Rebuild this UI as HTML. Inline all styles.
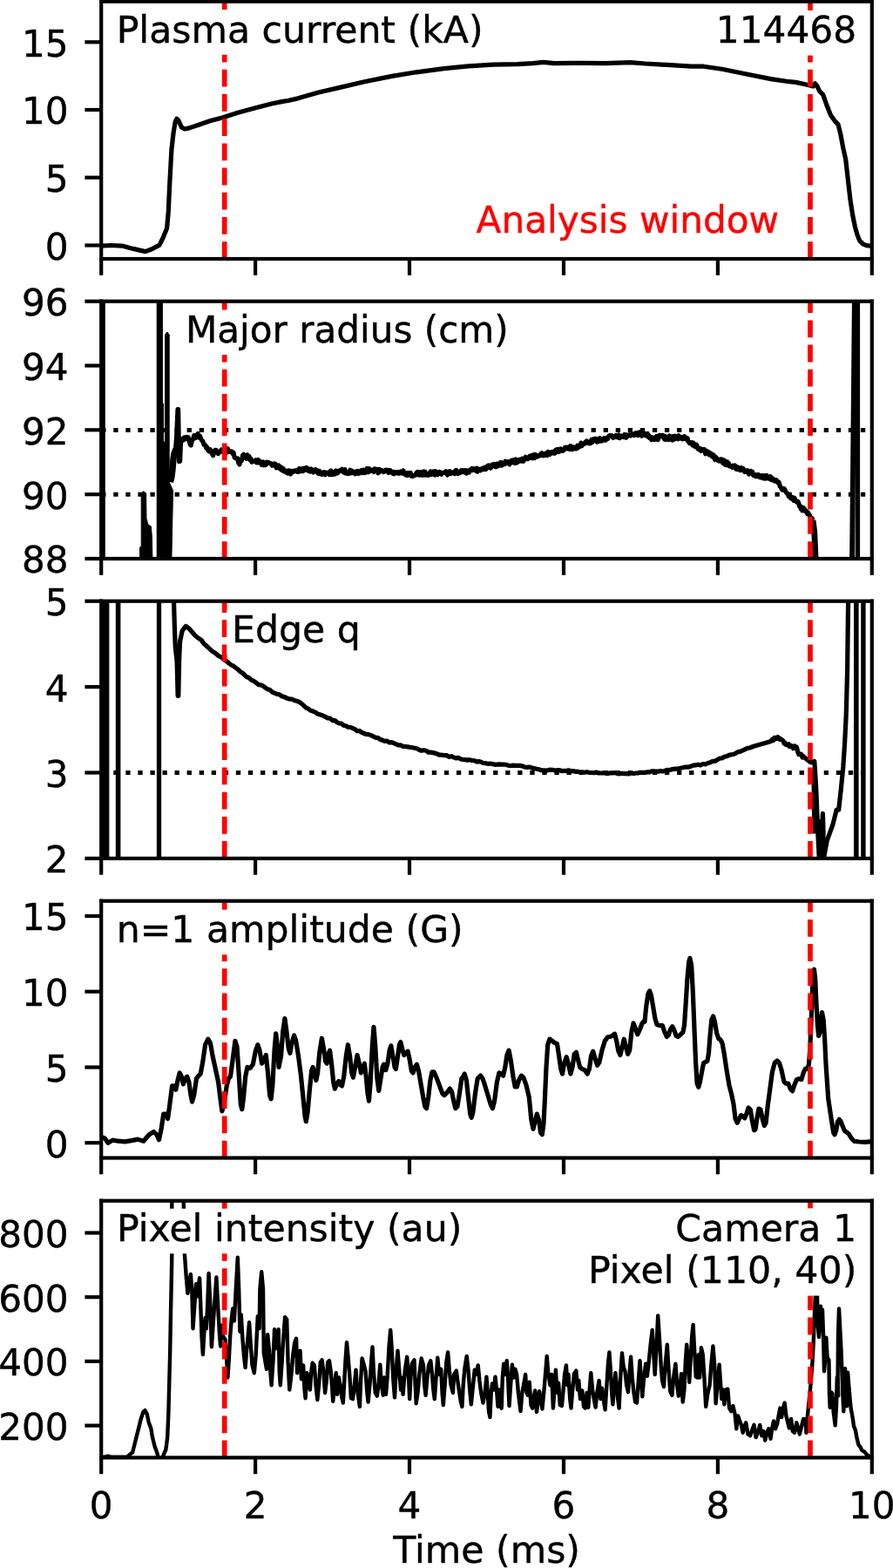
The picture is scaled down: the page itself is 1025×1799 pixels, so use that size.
<!DOCTYPE html>
<html lang="en"><head><meta charset="utf-8"><title>Shot 114468</title>
<style>html,body{margin:0;padding:0;background:#fff}svg{display:block}text{font-family:"DejaVu Sans","Liberation Sans",sans-serif;font-size:42.1px}</style></head><body>
<svg width="1025" height="1799" viewBox="0 0 1025 1799">
<rect width="1025" height="1799" fill="#fff"/>
<defs>
<clipPath id="c0"><rect x="116.2" y="1.7" width="884.6" height="295.3"/></clipPath>
<clipPath id="c1"><rect x="116.2" y="345.7" width="884.6" height="295.3"/></clipPath>
<clipPath id="c2"><rect x="116.2" y="689.7" width="884.6" height="295.2"/></clipPath>
<clipPath id="c3"><rect x="116.2" y="1033.7" width="884.6" height="294.8"/></clipPath>
<clipPath id="c4"><rect x="116.2" y="1377.7" width="884.6" height="294.7"/></clipPath>
</defs>
<g clip-path="url(#c0)">
<polyline points="116.4,282.1 127.2,281.5 140.0,282.1 152.9,285.4 166.9,288.6 174.4,285.8 183.0,281.1 187.3,272.5 191.6,261.8 193.3,242.4 194.8,210.2 196.9,171.6 199.1,152.3 201.2,139.4 202.9,136.2 204.9,138.3 208.3,145.9 212.0,148.0 217.3,146.9 228.0,143.3 240.9,138.8 256.0,134.7 273.1,129.3 292.4,124.0 311.8,119.0 324.6,116.4 330.5,115.5 341.1,113.1 365.7,106.0 390.2,100.4 418.3,93.7 450.0,87.4 478.0,82.8 509.7,78.6 537.8,75.8 565.9,74.1 594.0,73.7 611.5,72.7 623.8,71.3 636.1,72.7 657.2,72.3 671.2,72.3 695.1,72.7 723.2,71.6 740.8,73.0 765.4,74.4 793.5,76.2 807.5,76.2 828.6,79.3 856.7,85.0 884.8,90.6 905.9,93.7 913.3,94.4 925.3,97.0 933.4,99.0 935.4,95.8 938.0,98.7 940.7,104.7 944.7,108.7 948.7,120.0 953.4,132.0 958.7,139.4 962.0,142.7 964.7,153.4 968.0,170.7 970.7,182.7 973.4,206.7 976.0,229.4 978.7,246.8 981.4,260.1 984.0,269.4 986.7,276.1 990.7,280.1 994.7,281.7 1001.4,282.4" fill="none" stroke="#000" stroke-width="5.2" stroke-linejoin="round" stroke-linecap="butt"/>
<line x1="257.7" y1="297.0" x2="257.7" y2="1.7" stroke="#f00" stroke-width="5.7" stroke-dasharray="19.8 8.4" stroke-dashoffset="0"/>
<line x1="930.0" y1="297.0" x2="930.0" y2="1.7" stroke="#f00" stroke-width="5.7" stroke-dasharray="19.8 8.4" stroke-dashoffset="0"/>
<rect x="128.1" y="11.2" width="432.1" height="51.6" fill="#fff"/>
<rect x="816.2" y="12.0" width="172.4" height="51.6" fill="#fff"/>
<rect x="541.0" y="229.2" width="358.8" height="51.6" fill="#fff"/>
</g>
<text transform="translate(133.7 48.5) scale(1.011 1)" text-anchor="start" fill="#000" stroke="#000" stroke-width="0.4">Plasma current (kA)</text>
<text transform="translate(983.0 49.3) scale(1.003 1)" text-anchor="end" fill="#000" stroke="#000" stroke-width="0.4">114468</text>
<text transform="translate(546.6 266.5) scale(1.003 1)" text-anchor="start" fill="#f00" stroke="#f00" stroke-width="0.4">Analysis window</text>
<rect x="114.1" y="0.0" width="888.8" height="3.8"/>
<rect x="114.1" y="294.9" width="888.8" height="4.2"/>
<rect x="114.1" y="0.0" width="4.2" height="299.1"/>
<rect x="998.7" y="0.0" width="4.2" height="299.1"/>
<rect x="114.1" y="297.0" width="4.2" height="18.8"/>
<rect x="291.0" y="297.0" width="4.2" height="18.8"/>
<rect x="467.9" y="297.0" width="4.2" height="18.8"/>
<rect x="644.9" y="297.0" width="4.2" height="18.8"/>
<rect x="821.8" y="297.0" width="4.2" height="18.8"/>
<rect x="998.7" y="297.0" width="4.2" height="18.8"/>
<rect x="97.4" y="279.4" width="18.8" height="4.2"/>
<text transform="translate(78.5 297.9) scale(1.0 1)" text-anchor="end" fill="#000" stroke="#000" stroke-width="0.4">0</text>
<rect x="97.4" y="201.6" width="18.8" height="4.2"/>
<text transform="translate(78.5 220.1) scale(1.0 1)" text-anchor="end" fill="#000" stroke="#000" stroke-width="0.4">5</text>
<rect x="97.4" y="123.9" width="18.8" height="4.2"/>
<text transform="translate(78.5 142.4) scale(1.0 1)" text-anchor="end" fill="#000" stroke="#000" stroke-width="0.4">10</text>
<rect x="97.4" y="46.2" width="18.8" height="4.2"/>
<text transform="translate(78.5 64.7) scale(1.0 1)" text-anchor="end" fill="#000" stroke="#000" stroke-width="0.4">15</text>
<g clip-path="url(#c1)">
<line x1="116.2" y1="567.2" x2="1000.8" y2="567.2" stroke="#000" stroke-width="5.0" stroke-dasharray="5.3 8.76" stroke-dashoffset="0"/>
<line x1="116.2" y1="493.4" x2="1000.8" y2="493.4" stroke="#000" stroke-width="5.0" stroke-dasharray="5.3 8.76" stroke-dashoffset="0"/>
<polyline points="118.2,340.0 118.2,645.0" fill="none" stroke="#000" stroke-width="5.2" stroke-linejoin="round" stroke-linecap="butt"/>
<polygon points="160.5,642.0 160.5,628.3 162.2,626.3 162.2,565.9 164.6,563.7 167.6,565.9 168.0,595.1 170.0,602.0 173.4,603.9 174.4,616.6 174.9,642.0" fill="#000" stroke="#000" stroke-width="1" stroke-linejoin="round"/>
<polygon points="180.2,340.0 186.4,340.0 186.4,463.0 187.6,463.0 187.6,507.0 189.6,507.0 189.6,384.0 191.9,381.0 194.2,384.0 194.2,553.0 198.6,563.0 198.2,578.0 196.8,645.0 180.2,645.0" fill="#000" stroke="#000" stroke-width="1" stroke-linejoin="round"/>
<polyline points="195.6,553.2 197.1,547.3 198.2,538.5 199.0,528.8 199.7,522.0 201.4,518.0 202.9,513.2" fill="none" stroke="#000" stroke-width="7.0" stroke-linejoin="round" stroke-linecap="butt"/>
<polyline points="194.4,552.4 195.9,547.4 197.0,538.1 197.8,529.1 198.5,522.3 199.4,518.7 200.2,516.6 201.7,514.2 202.7,499.5 204.0,469.5 204.6,469.5 205.6,529.5 206.6,529.5 207.5,507.2 208.8,504.0 210.1,505.2 211.3,502.0 212.4,503.7 213.6,501.4 214.8,503.4 216.0,501.7 217.1,505.5 218.2,509.8 219.2,510.8 220.6,504.7 221.7,503.6 222.7,499.6 223.8,502.9 224.8,501.3 225.9,499.0 227.1,497.5 228.2,502.2 229.4,500.0 230.6,503.0 231.8,505.6 232.9,506.3 234.2,510.5 235.6,510.6 236.7,514.0 237.8,513.1 238.9,517.0 240.0,517.7 241.1,515.6 242.3,518.0 243.5,520.7 244.6,522.7 245.8,517.5 247.0,516.3 248.1,516.4 249.3,519.4 250.5,520.6 251.7,518.5 252.8,518.0 254.0,516.1 255.1,518.2 256.1,517.2 257.2,518.9 258.2,518.7 259.3,519.8 260.3,517.7 261.4,514.6 262.4,518.2 263.5,518.5 264.5,517.9 265.7,517.8 266.9,520.3 268.0,519.3 269.2,525.0 270.4,525.7 271.6,526.3 272.7,526.0 273.8,531.3 274.9,532.9 276.0,528.8 277.3,528.7 278.6,522.5 279.6,521.3 280.7,522.4 281.7,525.3 282.8,526.2 283.9,521.8 284.9,525.8 285.9,523.3 286.9,527.8 288.0,526.4 289.0,530.2 290.0,528.8 292.8,529.6 293.7,527.8 294.5,530.9 295.4,528.1 296.2,527.5 297.1,530.8 297.9,528.6 298.7,530.0 299.6,531.7 300.4,533.3 301.3,530.8 302.1,529.9 303.0,533.8 303.8,530.7 304.7,533.6 305.5,533.1 306.4,530.2 307.2,530.3 308.0,530.3 308.9,531.3 309.7,531.4 310.6,531.5 311.4,532.2 312.3,534.1 313.1,532.3 314.0,532.2 314.8,534.0 315.7,532.0 316.5,532.9 317.3,536.9 318.2,535.2 319.0,536.0 319.9,533.9 320.7,536.6 321.6,538.0 322.4,535.8 323.3,539.4 324.1,539.9 325.0,537.4 325.8,540.6 326.7,540.1 327.5,541.6 328.3,540.3 329.2,542.4 330.0,543.0 330.9,539.8 331.7,539.8 332.6,542.7 333.4,544.0 334.3,540.3 335.1,541.2 336.0,541.8 336.8,540.3 337.6,540.3 338.5,539.9 339.3,540.1 340.2,541.0 341.0,539.4 341.9,539.6 342.7,541.4 343.6,537.5 344.4,540.0 345.3,540.7 346.1,538.4 346.9,537.8 347.8,540.5 348.6,537.5 349.5,537.1 350.3,538.2 351.2,539.3 352.0,536.5 352.9,537.8 353.7,538.0 354.6,540.7 355.4,538.9 356.2,541.1 357.1,537.9 357.9,538.9 358.8,540.6 359.6,542.0 360.5,540.0 361.3,539.0 362.2,538.7 363.0,541.0 363.9,539.6 364.7,542.9 365.5,543.3 366.4,540.3 367.2,541.0 368.1,543.9 368.9,543.4 369.8,544.4 370.6,542.4 371.5,541.6 372.3,542.3 373.2,544.7 374.0,542.0 374.8,542.2 375.7,542.5 376.5,542.4 377.4,542.2 378.2,544.7 379.1,540.7 379.9,539.9 380.8,544.5 381.6,544.0 382.5,544.4 383.3,541.5 384.1,544.0 385.0,543.7 385.8,540.0 386.7,542.5 387.5,542.8 388.4,541.8 389.2,540.9 390.1,539.6 390.9,539.7 391.8,539.0 392.6,538.3 393.4,541.0 394.3,539.6 395.1,542.3 396.0,538.6 396.8,543.0 397.7,542.1 398.5,543.3 399.4,543.3 400.2,543.4 401.1,541.9 401.9,539.2 402.7,542.9 403.6,540.0 404.4,540.6 405.3,542.5 406.1,541.8 407.0,541.2 407.8,543.8 408.7,542.2 409.5,540.8 410.4,540.4 411.2,543.4 412.0,541.5 412.9,542.9 413.7,540.6 414.6,539.7 415.4,541.2 416.3,542.5 417.1,539.1 418.0,542.1 418.8,542.6 419.7,541.8 420.5,541.8 421.3,537.5 422.2,540.5 423.0,541.7 423.9,537.7 424.7,538.8 425.6,538.9 426.4,540.2 427.3,539.7 428.1,540.0 429.0,541.6 429.8,537.8 430.7,538.1 431.5,538.5 432.3,538.5 433.2,538.3 434.0,542.8 434.9,542.3 435.7,538.5 436.6,540.6 437.4,539.7 438.3,539.7 439.1,540.0 440.0,541.5 440.8,541.2 441.6,540.1 442.5,539.3 443.3,540.1 444.2,539.2 445.0,541.5 445.9,542.4 446.7,540.8 447.6,539.4 448.4,540.0 449.3,541.1 450.1,542.4 450.9,543.3 451.8,541.4 452.6,543.7 453.5,542.8 454.3,541.8 455.2,541.5 456.0,542.1 456.9,543.2 457.7,541.7 458.6,543.1 459.4,542.0 460.2,540.9 461.1,542.3 461.9,543.1 462.8,540.0 463.6,542.0 464.5,542.2 465.3,544.7 466.2,545.2 467.0,542.6 467.9,545.4 468.7,545.1 469.5,542.6 470.4,543.9 471.2,542.4 472.1,546.0 472.9,545.5 473.8,546.5 474.6,546.0 475.5,545.3 476.3,545.5 477.2,544.6 478.0,542.2 478.8,544.5 479.7,541.5 480.5,542.1 481.4,545.2 482.2,541.5 483.1,541.6 483.9,541.6 484.8,545.4 485.6,541.8 486.5,541.0 487.3,545.1 488.1,541.4 489.0,545.0 489.8,544.1 490.7,544.9 491.5,545.4 492.4,543.5 493.2,544.6 494.1,540.8 494.9,544.4 495.8,543.1 496.6,544.1 497.4,541.0 498.3,544.2 499.1,545.1 500.0,540.7 500.8,542.0 501.7,543.2 502.5,544.5 503.4,541.6 504.2,541.3 505.1,541.7 505.9,543.5 506.7,544.2 507.6,542.4 508.4,542.2 509.3,542.4 510.1,542.2 511.0,542.5 511.8,540.7 512.7,542.7 513.5,545.0 514.4,542.1 515.2,543.6 516.0,540.6 516.9,543.2 517.7,543.4 518.6,542.9 519.4,542.0 520.3,541.7 521.1,542.4 522.0,543.6 522.8,539.7 523.7,539.4 524.6,542.6 525.6,543.5 526.6,541.5 527.6,541.1 528.5,542.4 529.3,539.7 530.1,540.1 531.0,539.7 531.8,541.5 532.7,540.1 533.5,539.7 534.4,541.9 535.2,543.1 536.0,539.7 536.8,541.6 537.6,540.0 538.4,542.1 539.2,540.6 540.0,538.9 540.8,538.5 541.6,537.4 542.4,539.6 543.2,539.0 544.0,537.8 544.8,538.6 545.6,538.3 546.4,540.4 547.2,537.1 548.0,541.2 548.8,538.5 549.6,539.0 550.4,538.2 551.3,539.8 552.1,539.4 553.0,537.9 553.8,537.2 554.7,538.2 555.5,538.6 556.4,536.1 557.2,537.5 558.0,538.4 558.9,535.6 559.7,534.2 560.6,534.0 561.4,536.2 562.2,535.9 563.0,537.1 563.8,536.5 564.6,533.2 565.5,532.8 566.3,533.0 567.1,532.5 567.9,535.0 568.7,535.6 569.5,535.6 570.3,532.2 571.1,535.1 571.9,532.2 572.8,532.6 573.6,534.0 574.4,530.6 575.2,530.5 576.0,534.1 576.8,531.2 577.6,531.4 578.4,532.4 579.3,532.7 580.1,529.2 580.9,530.7 581.7,531.0 582.5,531.1 583.3,529.5 584.1,531.2 584.9,532.9 585.7,529.9 586.5,530.5 587.3,528.2 588.1,528.8 588.9,530.6 589.7,527.6 590.5,531.3 591.3,531.3 592.1,527.0 592.9,531.1 593.7,528.1 594.5,529.9 595.3,529.7 596.1,527.2 596.9,528.8 597.7,528.5 598.5,529.0 599.3,526.1 600.1,528.3 600.9,529.1 601.7,527.5 602.5,526.6 603.3,524.2 604.1,525.9 604.9,525.0 605.7,526.6 606.5,526.1 607.3,525.3 608.1,523.2 608.9,525.3 609.7,525.0 610.5,522.5 611.3,525.8 612.1,524.5 612.9,521.7 613.7,525.6 614.5,521.5 615.4,522.3 616.2,524.1 617.0,523.3 617.8,523.0 618.6,523.3 619.4,522.2 620.2,521.3 621.0,520.5 621.8,519.8 622.6,522.9 623.4,522.9 624.2,521.7 625.0,522.5 625.8,520.5 626.7,519.9 627.5,520.3 628.3,522.6 629.1,518.3 629.9,520.4 630.7,518.9 631.5,521.2 632.3,518.9 633.1,518.6 633.9,518.7 634.7,519.2 635.5,520.1 636.3,517.8 637.1,520.0 638.0,516.1 638.8,516.7 639.6,515.6 640.4,515.4 641.2,518.5 642.0,518.0 642.8,515.1 643.6,514.9 644.4,515.8 645.2,517.2 646.0,517.3 646.8,516.8 647.6,515.8 648.4,513.4 649.2,514.5 650.0,513.3 650.8,514.8 651.6,514.9 652.4,512.9 653.2,513.0 654.0,515.5 654.8,511.6 655.6,515.3 656.4,515.5 657.2,515.7 658.0,512.7 658.8,513.4 659.6,513.4 660.4,513.5 661.2,515.0 662.0,513.4 662.8,511.2 663.7,513.7 664.5,511.5 665.3,511.7 666.1,512.1 666.9,508.1 667.7,511.7 668.5,510.8 669.3,509.7 670.1,509.5 670.9,508.9 671.7,507.3 672.5,508.6 673.3,505.9 674.1,507.9 674.9,508.3 675.7,507.0 676.5,507.3 677.3,508.9 678.1,508.4 678.9,504.5 679.7,507.6 680.5,506.6 681.3,503.6 682.1,505.0 682.9,504.2 683.7,503.2 684.5,505.4 685.3,507.2 686.1,504.0 686.9,506.6 687.7,505.5 688.5,502.6 689.3,506.0 690.1,504.6 690.9,506.0 691.7,504.8 692.5,504.8 693.3,502.6 694.1,504.8 694.9,505.2 695.7,504.7 696.5,502.4 697.3,503.8 698.1,502.3 698.9,500.2 699.7,499.7 700.5,499.7 701.3,500.2 702.1,499.8 702.9,501.3 703.7,502.2 704.5,501.2 705.3,500.4 706.1,501.4 706.9,499.5 707.7,500.1 708.6,501.7 709.4,500.0 710.2,498.9 711.1,502.6 711.9,501.8 712.8,500.1 713.6,500.2 714.5,501.1 715.3,501.5 716.2,499.6 717.0,498.4 717.9,499.4 718.7,502.2 719.5,499.0 720.4,500.5 721.2,499.1 722.1,499.1 722.9,498.8 723.8,499.9 724.6,498.7 725.5,497.9 726.3,498.1 727.2,498.2 728.0,499.6 728.8,497.2 729.7,496.8 730.5,498.8 731.4,498.4 732.2,499.6 733.1,496.1 733.9,497.7 734.8,497.5 735.6,495.4 736.5,500.3 737.3,496.8 738.1,496.4 739.0,498.5 739.8,497.2 740.7,499.7 741.5,498.6 742.4,497.7 743.2,497.5 744.1,501.4 745.0,499.7 745.9,502.7 746.8,501.6 747.7,504.5 748.7,501.8 749.6,502.1 750.4,502.0 751.2,504.6 752.0,503.5 752.8,501.9 753.6,500.5 754.4,503.3 755.2,504.6 756.0,502.5 756.8,499.4 757.6,499.4 758.4,499.5 759.3,500.0 760.1,499.4 761.0,499.5 761.8,502.6 762.7,503.9 763.5,500.4 764.4,504.4 765.2,502.0 766.0,503.6 766.9,504.3 767.7,504.5 768.6,500.0 770.0,502.2 770.8,503.5 771.7,505.0 772.5,500.6 773.3,501.4 774.1,504.1 775.0,500.2 775.8,501.4 776.6,501.0 777.5,502.5 778.3,503.6 779.1,499.7 780.0,502.3 780.8,502.5 781.6,503.1 782.4,501.8 783.3,503.8 784.1,501.2 784.9,501.5 785.8,500.8 786.6,503.6 787.4,502.3 788.2,502.3 789.1,502.8 789.9,506.6 790.7,507.1 791.6,508.6 792.4,508.0 793.2,509.0 794.0,507.7 794.9,510.9 795.7,507.9 796.5,510.5 797.4,512.4 798.2,512.4 799.0,509.9 799.9,511.0 800.7,514.6 801.5,514.1 802.3,515.8 803.2,516.3 804.0,514.7 804.8,517.4 805.7,517.1 806.5,515.7 807.3,516.4 808.1,515.4 809.0,517.5 809.8,520.8 810.6,517.1 811.5,519.9 812.3,518.2 813.1,518.5 814.0,521.9 814.8,520.4 815.6,519.9 816.4,521.0 817.3,523.9 818.1,524.2 818.9,521.8 819.8,523.4 820.6,527.5 821.4,524.2 822.2,526.3 823.1,526.0 823.9,528.3 824.7,527.8 825.6,529.1 826.4,528.3 827.2,527.0 828.0,527.3 828.9,527.2 829.7,531.4 830.5,528.2 831.4,528.1 832.2,533.2 833.0,529.7 833.9,533.6 834.7,529.9 835.5,532.2 836.3,531.4 837.2,534.8 838.0,534.1 838.8,534.6 839.7,535.5 840.5,536.4 841.3,534.2 842.1,535.8 843.0,535.4 843.8,534.1 844.6,538.0 845.5,537.2 846.3,538.6 847.1,535.9 848.0,538.0 848.8,537.9 849.6,539.6 850.4,536.6 851.3,538.2 852.1,539.2 852.9,537.4 853.8,540.1 854.6,541.3 855.4,540.0 856.2,541.4 857.1,541.4 857.9,539.7 858.7,540.7 859.6,544.2 860.4,541.1 861.2,541.8 862.0,540.4 862.9,541.3 863.7,541.3 864.5,545.3 865.4,544.6 866.2,545.6 867.0,546.4 867.9,544.7 868.7,546.6 869.5,544.9 870.3,544.5 871.2,547.3 872.0,547.3 872.8,547.8 873.7,545.6 874.5,547.3 875.3,545.7 876.1,548.8 877.0,548.7 877.8,545.7 878.6,549.1 879.5,545.6 880.3,545.5 881.1,548.9 882.0,547.1 882.8,548.5 883.6,549.4 884.4,546.7 885.3,550.6 886.1,548.5 886.9,549.6 887.8,549.5 888.6,551.8 889.4,552.1 890.2,550.7 891.1,550.6 891.9,552.4 892.7,553.8 893.6,552.9 894.4,554.1 895.2,558.0 896.0,558.5 896.9,560.7 897.7,561.7 898.5,562.2 899.4,560.6 900.2,560.5 901.0,562.3 901.9,564.0 902.7,565.3 903.5,566.3 904.3,566.4 905.2,569.6 906.0,567.5 906.8,569.1 907.7,571.9 908.5,572.2 909.3,570.4 910.1,570.9 911.0,574.4 911.8,571.2 912.6,572.5 913.5,575.2 914.3,576.0 915.1,575.1 916.0,575.5 916.8,577.2 917.6,581.0 918.4,580.4 919.3,584.0 920.1,584.0 920.9,585.9 921.8,582.2 922.6,583.7 923.4,583.7 924.2,586.6 925.1,587.0 925.9,586.4 926.7,589.7 927.6,588.3 928.4,590.2 929.2,590.7 930.2,594.7 931.1,594.0 932.0,594.5 933.0,596.9" fill="none" stroke="#000" stroke-width="5.2" stroke-linejoin="round" stroke-linecap="butt"/>
<polyline points="933.0,596.9 933.7,601.9 934.7,609.4 935.4,624.3 936.2,644.2" fill="none" stroke="#000" stroke-width="6.8" stroke-linejoin="round" stroke-linecap="butt"/>
<polyline points="980.9,340.0 978.0,646.0" fill="none" stroke="#000" stroke-width="5.8" stroke-linejoin="round" stroke-linecap="butt"/>
<polyline points="984.4,340.0 984.4,646.0" fill="none" stroke="#000" stroke-width="5.4" stroke-linejoin="round" stroke-linecap="butt"/>
<line x1="257.7" y1="641.0" x2="257.7" y2="345.7" stroke="#f00" stroke-width="5.7" stroke-dasharray="19.8 8.4" stroke-dashoffset="0"/>
<line x1="930.0" y1="641.0" x2="930.0" y2="345.7" stroke="#f00" stroke-width="5.7" stroke-dasharray="19.8 8.4" stroke-dashoffset="0"/>
<rect x="207.4" y="355.5" width="382.0" height="51.6" fill="#fff"/>
</g>
<text transform="translate(213.0 392.8) scale(1.0 1)" text-anchor="start" fill="#000" stroke="#000" stroke-width="0.4">Major radius (cm)</text>
<rect x="114.1" y="343.6" width="888.8" height="4.2"/>
<rect x="114.1" y="638.9" width="888.8" height="4.2"/>
<rect x="114.1" y="343.6" width="4.2" height="299.5"/>
<rect x="998.7" y="343.6" width="4.2" height="299.5"/>
<rect x="114.1" y="641.0" width="4.2" height="18.8"/>
<rect x="291.0" y="641.0" width="4.2" height="18.8"/>
<rect x="467.9" y="641.0" width="4.2" height="18.8"/>
<rect x="644.9" y="641.0" width="4.2" height="18.8"/>
<rect x="821.8" y="641.0" width="4.2" height="18.8"/>
<rect x="998.7" y="641.0" width="4.2" height="18.8"/>
<rect x="97.4" y="638.9" width="18.8" height="4.2"/>
<text transform="translate(78.5 657.4) scale(1.0 1)" text-anchor="end" fill="#000" stroke="#000" stroke-width="0.4">88</text>
<rect x="97.4" y="565.1" width="18.8" height="4.2"/>
<text transform="translate(78.5 583.6) scale(1.0 1)" text-anchor="end" fill="#000" stroke="#000" stroke-width="0.4">90</text>
<rect x="97.4" y="491.2" width="18.8" height="4.2"/>
<text transform="translate(78.5 509.8) scale(1.0 1)" text-anchor="end" fill="#000" stroke="#000" stroke-width="0.4">92</text>
<rect x="97.4" y="417.4" width="18.8" height="4.2"/>
<text transform="translate(78.5 435.9) scale(1.0 1)" text-anchor="end" fill="#000" stroke="#000" stroke-width="0.4">94</text>
<rect x="97.4" y="343.6" width="18.8" height="4.2"/>
<text transform="translate(78.5 362.1) scale(1.0 1)" text-anchor="end" fill="#000" stroke="#000" stroke-width="0.4">96</text>
<g clip-path="url(#c2)">
<line x1="116.2" y1="886.5" x2="1000.8" y2="886.5" stroke="#000" stroke-width="5.0" stroke-dasharray="5.3 8.76" stroke-dashoffset="0"/>
<polygon points="116.0,685.0 124.9,685.0 124.9,990.0 116.0,990.0" fill="#000" stroke="#000" stroke-width="1" stroke-linejoin="round"/>
<polyline points="135.6,685.0 135.6,990.0" fill="none" stroke="#000" stroke-width="5.6" stroke-linejoin="round" stroke-linecap="butt"/>
<polyline points="182.5,685.0 182.5,990.0" fill="none" stroke="#000" stroke-width="5.3" stroke-linejoin="round" stroke-linecap="butt"/>
<polyline points="199.2,685.0 199.6,692.0 200.4,720.1 201.3,743.0 203.1,758.8 204.1,798.3 204.8,798.3 205.7,755.2 206.6,735.9 209.2,723.6 213.3,718.4 217.1,721.2 220.6,725.3 224.1,729.3 227.7,732.2 231.2,734.5 233.8,738.3 236.4,740.5 240.0,743.8 243.5,747.1 247.0,749.3 250.5,752.3 254.0,753.8 257.5,757.0 260.1,758.6 262.8,761.0 265.4,763.0 268.0,764.2 270.7,766.3 273.3,768.1 276.0,770.8 278.6,772.3 280.0,773.6 282.8,776.5 285.6,777.5 288.4,780.1 291.2,781.4 294.0,783.2 296.7,785.6 299.3,785.8 302.0,786.9 304.6,789.1 307.2,790.7 309.9,791.5 312.5,794.1 315.1,795.2 317.9,796.4 320.7,796.8 323.6,798.9 326.4,799.6 329.2,801.1 332.0,802.0 334.8,802.2 337.6,803.4 340.4,804.2 343.2,805.2 345.9,807.1 348.5,809.4 351.1,811.9 353.8,813.1 356.6,815.3 359.4,816.1 362.2,817.3 365.0,819.3 367.8,820.1 370.6,821.0 373.4,822.4 376.2,823.9 379.0,824.2 381.9,826.7 384.4,826.5 386.9,828.7 389.4,830.0 391.9,830.0 394.4,832.2 396.9,832.8 399.4,834.2 402.0,834.4 404.7,835.4 407.3,836.6 410.0,838.6 412.6,838.5 415.2,840.3 417.9,841.5 420.5,842.5 423.1,842.6 425.8,843.7 428.4,844.9 431.0,846.3 433.7,846.4 436.3,848.3 438.9,849.3 441.6,850.4 444.2,850.0 446.8,852.0 449.5,851.6 452.1,852.7 454.7,853.8 457.4,855.0 460.0,854.9 462.6,856.5 465.3,856.5 467.9,856.8 470.5,857.4 473.2,857.7 475.8,858.2 478.4,858.8 481.1,860.2 483.7,861.2 486.3,860.7 489.0,861.2 491.6,863.1 494.2,863.1 496.9,863.6 499.5,864.1 502.1,865.2 504.8,866.2 507.4,866.2 510.0,866.7 512.7,866.7 515.3,868.4 518.0,867.7 520.6,868.9 523.2,869.9 525.9,869.4 528.5,870.7 531.1,871.5 533.8,871.5 536.4,872.1 539.0,871.6 541.7,872.5 544.3,872.5 546.9,873.9 549.6,873.6 552.2,874.3 554.8,875.5 557.5,875.7 560.1,876.3 562.7,876.0 565.4,876.5 568.0,877.3 570.6,877.1 573.3,876.9 575.9,877.2 578.5,877.0 581.2,877.5 583.8,878.4 586.4,878.5 589.1,878.2 591.7,878.3 594.3,878.4 597.0,878.4 599.6,878.9 602.2,880.0 604.9,880.4 607.5,880.0 610.1,880.9 613.0,881.6 615.8,882.2 618.6,882.8 621.4,883.7 624.2,883.8 627.5,884.1 630.8,883.2 634.0,883.3 636.7,883.9 639.3,883.9 642.0,883.5 644.6,884.6 647.2,884.4 649.9,884.5 652.5,883.8 655.1,884.8 657.8,884.5 660.4,885.3 663.0,885.2 665.7,885.8 668.3,885.8 670.9,886.2 673.6,885.7 676.2,886.3 678.9,886.5 681.7,886.7 684.4,886.1 687.1,886.9 689.9,887.0 692.6,886.8 695.3,887.3 698.0,887.4 700.8,886.8 703.4,886.9 706.0,886.5 708.7,887.5 711.3,887.8 714.0,887.2 716.6,887.6 719.2,887.7 721.9,887.8 724.5,886.8 727.1,887.5 729.8,887.0 732.4,886.9 735.0,886.3 737.7,886.4 740.3,886.4 742.9,885.9 745.4,885.9 747.9,884.8 750.5,884.8 753.0,885.1 755.5,885.2 758.0,884.5 760.5,885.0 763.0,884.5 765.5,883.4 768.0,883.6 770.5,882.9 773.0,882.3 775.5,882.1 778.0,882.0 780.9,881.3 783.7,880.8 786.5,880.1 789.3,880.2 792.1,879.6 795.6,878.2 798.4,877.9 801.2,877.2 804.0,878.0 806.8,876.5 809.7,876.8 812.5,875.6 815.3,874.7 818.1,873.3 820.9,873.2 823.7,871.5 826.3,870.0 829.0,869.8 831.6,868.1 834.2,867.7 836.9,866.4 839.5,865.8 842.1,865.3 844.8,864.1 847.4,862.6 850.0,862.1 852.7,860.9 855.3,859.6 858.0,858.3 860.6,858.0 863.2,857.0 865.9,855.9 883.4,851.0 884.5,850.8 885.5,849.3 886.6,848.2 887.6,849.6 888.7,846.4 889.7,846.4 890.8,847.6 891.8,847.4 892.9,845.6 894.0,846.8 895.0,848.5 896.0,847.7 897.0,848.8 898.0,849.0 899.0,850.0 900.0,853.0 901.0,852.0 902.0,854.4 903.1,854.8 904.1,854.3 905.2,853.7 906.2,856.6 907.3,855.5 908.4,855.8 909.4,856.0 910.5,858.7 911.5,857.6 910.3,856.6 909.1,856.9 908.0,855.4 906.8,856.6 907.9,856.3 909.0,856.1 910.1,857.9 911.1,858.2 912.2,855.9 913.3,857.8 914.4,857.2 915.7,862.7 917.0,865.6 918.0,864.6 919.0,865.3 920.0,865.6 921.0,869.0 922.0,867.4 923.1,869.1 924.1,869.4 925.1,870.6 926.1,871.1 927.1,872.3 928.2,871.1 929.2,874.0 930.3,873.4 931.4,874.9 934.8,873.5 935.6,885.1 936.8,905.4 937.8,930.8 938.8,956.3 940.4,988.5 940.9,942.7 942.4,976.6 944.4,933.4 945.1,956.3 943.4,988.5 944.8,988.5 949.2,964.7 955.9,946.1 960.2,929.1 962.7,929.1 965.3,905.4 967.8,880.0 969.5,854.5 971.2,820.6 972.6,769.8 973.2,718.9 973.7,685.0" fill="none" stroke="#000" stroke-width="5.2" stroke-linejoin="round" stroke-linecap="butt"/>
<polyline points="934.4,885.1 934.9,905.4 935.1,930.8 936.1,956.3" fill="none" stroke="#000" stroke-width="6.5" stroke-linejoin="round" stroke-linecap="butt"/>
<polyline points="982.8,685.0 982.8,990.0" fill="none" stroke="#000" stroke-width="5.6" stroke-linejoin="round" stroke-linecap="butt"/>
<polyline points="990.9,685.0 990.9,990.0" fill="none" stroke="#000" stroke-width="5.4" stroke-linejoin="round" stroke-linecap="butt"/>
<line x1="257.7" y1="984.9" x2="257.7" y2="689.7" stroke="#f00" stroke-width="5.7" stroke-dasharray="19.8 8.4" stroke-dashoffset="0"/>
<line x1="930.0" y1="984.9" x2="930.0" y2="689.7" stroke="#f00" stroke-width="5.7" stroke-dasharray="19.8 8.4" stroke-dashoffset="0"/>
<rect x="260.4" y="699.7" width="158.9" height="51.6" fill="#fff"/>
</g>
<text transform="translate(266.0 737.0) scale(1.011 1)" text-anchor="start" fill="#000" stroke="#000" stroke-width="0.4">Edge q</text>
<rect x="114.1" y="687.6" width="888.8" height="4.2"/>
<rect x="114.1" y="982.8" width="888.8" height="4.2"/>
<rect x="114.1" y="687.6" width="4.2" height="299.4"/>
<rect x="998.7" y="687.6" width="4.2" height="299.4"/>
<rect x="114.1" y="984.9" width="4.2" height="18.8"/>
<rect x="291.0" y="984.9" width="4.2" height="18.8"/>
<rect x="467.9" y="984.9" width="4.2" height="18.8"/>
<rect x="644.9" y="984.9" width="4.2" height="18.8"/>
<rect x="821.8" y="984.9" width="4.2" height="18.8"/>
<rect x="998.7" y="984.9" width="4.2" height="18.8"/>
<rect x="97.4" y="982.8" width="18.8" height="4.2"/>
<text transform="translate(78.5 1001.3) scale(1.0 1)" text-anchor="end" fill="#000" stroke="#000" stroke-width="0.4">2</text>
<rect x="97.4" y="884.4" width="18.8" height="4.2"/>
<text transform="translate(78.5 902.9) scale(1.0 1)" text-anchor="end" fill="#000" stroke="#000" stroke-width="0.4">3</text>
<rect x="97.4" y="786.0" width="18.8" height="4.2"/>
<text transform="translate(78.5 804.5) scale(1.0 1)" text-anchor="end" fill="#000" stroke="#000" stroke-width="0.4">4</text>
<rect x="97.4" y="687.6" width="18.8" height="4.2"/>
<text transform="translate(78.5 706.1) scale(1.0 1)" text-anchor="end" fill="#000" stroke="#000" stroke-width="0.4">5</text>
<g clip-path="url(#c3)">
<polyline points="114.3,1304.3 117.5,1304.9 120.3,1306.0 124.0,1311.4 129.3,1308.1 135.8,1309.2 143.3,1309.9 150.8,1308.6 158.3,1307.1 164.7,1309.2 171.2,1301.7 176.5,1298.5 179.8,1301.7 182.5,1307.7 185.1,1295.3 187.7,1278.1 190.5,1278.1 192.6,1283.5 194.8,1267.4 197.6,1245.9 200.1,1245.9 201.9,1250.2 204.0,1239.5 206.2,1230.9 208.3,1235.2 210.4,1243.8 212.6,1237.3 214.7,1235.2 216.9,1241.6 219.0,1256.6 220.5,1264.1 222.7,1256.6 225.5,1237.3 228.0,1234.1 230.2,1232.0 232.8,1218.0 235.6,1198.7 238.8,1192.2 241.4,1196.5 244.1,1211.6 247.4,1226.6 250.6,1241.6 252.7,1258.8 254.9,1274.9 257.7,1263.1 260.2,1245.9 262.4,1237.3 264.5,1235.2 267.1,1215.9 269.9,1194.4 272.0,1200.8 274.2,1233.0 276.3,1267.4 277.8,1272.7 279.6,1258.8 281.7,1235.2 283.9,1224.4 287.1,1225.5 290.3,1221.2 293.5,1205.1 295.9,1198.7 298.0,1205.1 300.6,1220.1 303.2,1215.9 305.3,1210.5 307.5,1230.9 309.6,1256.6 311.1,1260.9 312.8,1245.9 315.0,1205.1 316.7,1185.8 318.6,1200.8 320.0,1224.4 322.6,1211.6 324.7,1183.7 326.9,1168.6 329.0,1183.7 331.2,1203.0 332.9,1208.3 335.0,1196.5 337.6,1188.0 339.7,1194.4 342.5,1211.6 345.3,1233.0 347.9,1258.8 350.0,1280.2 351.3,1286.7 353.1,1276.0 355.4,1250.2 357.6,1228.7 359.1,1224.4 361.2,1233.0 362.9,1239.5 364.6,1230.9 366.8,1207.3 369.4,1191.2 371.5,1203.0 373.7,1218.0 375.2,1220.1 376.9,1209.4 378.6,1205.1 380.5,1220.1 382.7,1241.6 384.4,1249.1 386.5,1243.8 388.7,1240.5 390.8,1244.8 392.5,1245.9 394.7,1235.2 397.3,1211.6 399.4,1198.7 401.6,1211.6 403.7,1230.9 405.4,1236.2 407.6,1224.4 410.1,1210.5 412.3,1220.1 414.4,1230.9 416.6,1224.4 418.3,1220.1 420.0,1233.0 422.0,1254.5 423.5,1263.1 425.2,1241.6 427.3,1200.8 429.0,1178.3 430.8,1200.8 432.9,1237.3 434.8,1251.3 437.0,1237.3 439.1,1224.4 440.6,1221.2 442.8,1227.7 444.9,1220.1 447.1,1205.1 448.8,1199.8 450.9,1211.6 453.1,1224.4 454.4,1226.6 456.3,1213.7 458.4,1198.7 459.9,1195.5 462.1,1205.1 463.8,1210.5 466.0,1208.3 468.1,1206.2 470.2,1215.9 472.4,1228.7 474.1,1230.9 476.3,1224.4 478.4,1221.2 480.5,1228.7 483.1,1243.8 485.7,1258.8 487.8,1269.5 489.6,1271.7 491.7,1258.8 493.9,1239.5 496.0,1229.8 498.1,1229.8 501.4,1237.3 504.6,1245.9 507.8,1254.5 510.0,1256.6 513.2,1253.4 516.4,1249.1 518.5,1252.3 520.7,1263.1 522.8,1271.7 525.0,1269.5 527.1,1256.6 529.9,1237.3 531.7,1235.2 533.2,1232.0 535.4,1239.5 537.5,1258.8 539.7,1278.1 541.2,1282.4 542.9,1276.0 545.5,1254.5 548.2,1237.3 551.5,1234.1 554.0,1237.3 556.8,1245.9 560.0,1256.6 563.3,1267.4 565.4,1271.7 567.6,1263.1 570.4,1241.6 572.9,1230.9 575.5,1232.0 577.6,1234.1 579.8,1224.4 581.9,1210.5 584.1,1205.1 586.2,1215.9 589.0,1235.2 591.2,1247.0 593.3,1247.0 595.5,1239.5 598.3,1234.1 600.8,1236.2 604.0,1244.8 607.3,1258.8 609.8,1284.5 612.0,1295.3 614.1,1286.7 616.3,1278.1 618.4,1284.5 620.6,1299.6 622.3,1301.7 624.0,1288.8 625.5,1258.8 627.0,1224.4 628.7,1198.7 630.9,1192.2 633.5,1194.0 636.2,1196.1 639.5,1197.6 641.6,1211.6 643.8,1226.6 645.5,1232.0 647.6,1220.1 650.2,1212.6 652.3,1220.1 654.9,1232.0 657.1,1224.4 659.2,1209.4 661.4,1207.3 663.5,1215.9 665.6,1224.4 668.4,1226.6 671.2,1227.7 674.2,1232.0 676.4,1226.6 678.5,1211.6 680.7,1206.2 682.8,1213.7 685.6,1222.3 687.8,1219.1 691.0,1205.1 694.2,1194.4 697.4,1190.1 701.7,1189.0 705.6,1186.2 707.7,1194.4 709.9,1206.2 712.0,1210.5 714.2,1200.8 716.3,1192.2 718.4,1200.8 720.6,1209.4 722.7,1205.1 724.9,1183.7 727.0,1174.0 729.2,1179.4 731.8,1186.9 734.3,1181.5 737.1,1174.0 739.9,1170.8 740.0,1172.3 741.7,1155.1 743.9,1140.1 745.6,1136.9 747.5,1142.2 749.7,1155.1 751.8,1168.0 754.0,1175.5 757.2,1176.6 760.4,1176.6 762.5,1183.0 765.3,1189.5 767.5,1187.3 769.6,1180.9 771.8,1177.7 773.9,1182.0 776.1,1188.4 778.2,1189.5 780.8,1187.3 784.0,1184.1 785.5,1176.6 787.2,1150.8 788.9,1122.9 790.7,1103.6 791.9,1099.3 793.7,1107.9 795.4,1140.1 797.1,1183.0 798.6,1219.5 800.1,1243.1 801.8,1247.4 803.5,1241.0 805.5,1230.2 807.6,1219.5 809.8,1218.4 811.9,1217.4 813.4,1208.8 815.1,1187.3 816.8,1170.1 818.6,1165.9 820.5,1172.3 822.6,1185.2 824.8,1191.6 826.9,1192.7 829.1,1197.0 831.2,1208.8 834.4,1230.2 837.0,1245.3 839.8,1256.0 842.0,1266.7 844.1,1283.9 846.2,1288.2 848.4,1283.9 850.5,1279.6 852.7,1280.7 854.8,1282.8 857.0,1277.5 859.1,1271.0 861.3,1273.2 863.4,1286.0 865.6,1296.8 867.1,1295.7 868.8,1283.9 870.9,1272.1 873.1,1273.2 875.2,1283.9 877.4,1291.4 879.1,1288.2 881.2,1268.9 883.8,1249.6 886.4,1230.2 889.2,1219.5 892.0,1216.9 894.5,1219.5 897.1,1228.1 899.9,1241.0 902.0,1243.1 904.8,1243.1 907.4,1249.6 909.6,1251.7 911.7,1245.3 914.3,1238.8 917.1,1237.8 919.9,1238.4 922.4,1230.2 924.6,1226.0 926.7,1226.4 928.4,1221.7 929.7,1204.5 931.0,1174.4 932.3,1140.1 933.2,1116.5 934.5,1112.2 935.7,1122.9 937.0,1150.8 938.3,1174.4 939.6,1188.4 940.9,1185.2 942.2,1170.1 943.5,1161.6 945.2,1170.3 946.6,1191.2 947.9,1219.0 949.3,1239.8 950.7,1260.7 952.8,1274.6 954.9,1288.4 956.7,1299.6 958.1,1301.7 959.8,1296.8 961.4,1287.1 963.2,1284.3 965.3,1287.1 967.4,1292.6 969.5,1297.5 971.6,1298.9 974.3,1301.0 977.1,1305.8 980.6,1309.3 986.2,1310.0 993.1,1310.4 1002.1,1309.6" fill="none" stroke="#000" stroke-width="5.2" stroke-linejoin="round" stroke-linecap="butt"/>
<line x1="257.7" y1="1328.5" x2="257.7" y2="1033.7" stroke="#f00" stroke-width="5.7" stroke-dasharray="19.8 8.4" stroke-dashoffset="0"/>
<line x1="930.0" y1="1328.5" x2="930.0" y2="1033.7" stroke="#f00" stroke-width="5.7" stroke-dasharray="19.8 8.4" stroke-dashoffset="0"/>
<rect x="128.1" y="1043.7" width="409.3" height="51.6" fill="#fff"/>
</g>
<text transform="translate(133.7 1081.0) scale(1.011 1)" text-anchor="start" fill="#000" stroke="#000" stroke-width="0.4">n=1 amplitude (G)</text>
<rect x="114.1" y="1031.6" width="888.8" height="4.2"/>
<rect x="114.1" y="1326.4" width="888.8" height="4.2"/>
<rect x="114.1" y="1031.6" width="4.2" height="299.0"/>
<rect x="998.7" y="1031.6" width="4.2" height="299.0"/>
<rect x="114.1" y="1328.5" width="4.2" height="18.8"/>
<rect x="291.0" y="1328.5" width="4.2" height="18.8"/>
<rect x="467.9" y="1328.5" width="4.2" height="18.8"/>
<rect x="644.9" y="1328.5" width="4.2" height="18.8"/>
<rect x="821.8" y="1328.5" width="4.2" height="18.8"/>
<rect x="998.7" y="1328.5" width="4.2" height="18.8"/>
<rect x="97.4" y="1309.1" width="18.8" height="4.2"/>
<text transform="translate(78.5 1327.6) scale(1.0 1)" text-anchor="end" fill="#000" stroke="#000" stroke-width="0.4">0</text>
<rect x="97.4" y="1222.4" width="18.8" height="4.2"/>
<text transform="translate(78.5 1240.9) scale(1.0 1)" text-anchor="end" fill="#000" stroke="#000" stroke-width="0.4">5</text>
<rect x="97.4" y="1135.6" width="18.8" height="4.2"/>
<text transform="translate(78.5 1154.1) scale(1.0 1)" text-anchor="end" fill="#000" stroke="#000" stroke-width="0.4">10</text>
<rect x="97.4" y="1048.9" width="18.8" height="4.2"/>
<text transform="translate(78.5 1067.4) scale(1.0 1)" text-anchor="end" fill="#000" stroke="#000" stroke-width="0.4">15</text>
<g clip-path="url(#c4)">
<polyline points="115.3,1672.1 120.5,1671.4 124.0,1670.6 127.6,1671.8 146.0,1671.8 149.5,1668.3 152.1,1666.5 153.9,1659.5 156.5,1649.0 159.2,1638.4 161.8,1627.9 164.4,1620.0 166.5,1618.2 168.8,1622.6 170.6,1631.4 173.2,1638.4 175.0,1649.0 177.6,1659.5 180.2,1666.5 182.4,1675.3 185.5,1675.3 188.1,1668.3 190.4,1663.0 192.2,1649.0 193.4,1620.9 194.3,1585.7 195.2,1550.6 196.0,1506.7 196.9,1462.8 197.3,1438.6 197.3,1371.5 210.6,1371.5 211.9,1438.6 213.6,1462.8 215.4,1483.9 217.1,1473.3 218.9,1461.9 220.3,1480.4 221.5,1524.3 223.3,1497.9 225.0,1473.3 226.8,1487.4 228.0,1473.3 229.1,1466.3 230.3,1497.9 231.5,1533.0 232.9,1554.1 234.3,1529.5 235.6,1512.0 236.8,1524.3 238.2,1497.9 239.6,1461.0 241.4,1497.9 242.9,1545.3 244.3,1524.3 246.1,1497.9 248.4,1465.4 250.1,1497.9 251.9,1529.5 253.1,1544.5 254.4,1520.8 255.8,1533.0 258.4,1536.6 260.1,1559.4 261.4,1580.5 262.8,1559.4 264.2,1533.0 265.9,1512.0 267.2,1501.4 268.9,1515.5 270.7,1480.4 272.8,1442.6 274.2,1480.4 275.4,1527.8 276.8,1508.5 278.2,1533.0 280.0,1555.9 281.6,1569.0 283.0,1550.6 284.7,1533.0 286.1,1517.2 287.7,1541.8 289.5,1566.4 291.8,1575.2 293.7,1554.1 295.8,1510.2 297.6,1524.3 298.4,1478.6 300.2,1459.3 302.0,1478.6 302.8,1552.4 304.6,1562.9 306.0,1570.8 307.2,1531.3 309.0,1548.9 310.2,1571.7 311.6,1589.3 313.4,1562.9 315.1,1525.2 316.9,1547.1 318.3,1538.3 319.7,1525.2 320.7,1573.5 321.8,1589.3 323.6,1562.9 325.3,1534.8 327.1,1511.1 329.2,1513.8 330.6,1562.9 332.3,1594.5 334.4,1577.0 336.5,1552.4 338.3,1540.1 340.1,1535.7 341.1,1575.2 342.9,1562.9 344.6,1549.8 345.9,1582.2 348.1,1566.4 349.4,1592.8 350.6,1604.2 352.4,1575.2 354.1,1584.0 355.9,1594.5 357.3,1573.5 358.7,1563.8 360.8,1566.4 362.5,1589.3 364.3,1606.0 366.0,1589.3 367.8,1562.9 369.6,1560.3 371.3,1573.5 373.1,1598.0 374.8,1584.0 376.2,1562.9 378.0,1561.2 379.7,1573.5 381.0,1589.3 382.2,1607.7 384.0,1589.3 385.7,1575.2 387.1,1599.8 388.9,1580.5 390.6,1589.3 392.4,1603.3 393.8,1609.5 395.0,1589.3 396.4,1562.9 398.0,1540.1 399.8,1559.4 401.5,1580.5 402.9,1604.2 405.0,1605.1 406.8,1589.3 408.5,1571.7 410.0,1594.5 411.7,1605.1 412.9,1613.9 414.3,1580.5 415.6,1558.5 417.9,1566.4 419.6,1573.5 421.4,1598.0 422.6,1608.6 424.4,1589.3 426.1,1562.9 427.5,1545.4 428.9,1573.5 430.7,1598.0 432.8,1601.6 434.5,1589.3 436.3,1565.6 438.0,1589.3 439.8,1600.7 441.2,1580.5 443.0,1599.8 444.7,1578.7 446.5,1545.4 448.2,1526.0 449.6,1545.4 451.2,1580.5 453.0,1603.3 454.7,1571.7 456.5,1549.8 458.2,1571.7 460.0,1594.5 460.9,1580.5 462.6,1599.8 464.9,1571.7 467.2,1556.8 469.0,1580.5 470.2,1605.1 471.4,1580.5 472.8,1564.7 475.5,1560.3 476.7,1589.3 477.7,1610.3 479.5,1598.0 481.3,1577.0 483.7,1558.5 486.0,1566.4 487.2,1589.3 488.6,1600.7 490.4,1580.5 492.1,1566.4 494.3,1561.2 496.0,1577.0 497.4,1594.5 498.8,1605.1 500.6,1580.5 502.3,1557.7 504.1,1577.0 506.2,1570.8 507.6,1598.0 508.8,1612.1 510.6,1589.3 512.3,1562.9 514.1,1551.5 515.9,1573.5 517.6,1589.3 519.9,1598.0 521.1,1577.0 523.8,1572.6 525.5,1585.8 527.3,1598.0 529.0,1608.6 530.4,1613.9 531.7,1589.3 533.4,1570.0 535.7,1555.9 537.5,1571.7 539.2,1594.5 540.8,1611.2 542.5,1594.5 544.8,1571.7 546.6,1577.0 548.7,1566.4 550.4,1584.0 552.2,1598.0 554.5,1609.5 556.6,1598.0 558.4,1579.6 559.8,1598.0 561.0,1619.1 562.4,1626.1 563.8,1598.0 565.0,1587.5 566.8,1594.5 568.5,1579.6 570.3,1598.0 571.5,1613.9 572.9,1594.5 574.3,1613.0 575.7,1615.6 576.8,1580.5 578.2,1564.7 580.0,1577.0 581.7,1561.2 583.1,1580.5 584.5,1613.0 586.1,1589.3 587.9,1565.6 589.6,1580.5 591.4,1570.8 593.1,1577.0 594.9,1598.0 597.5,1619.1 599.3,1598.0 601.0,1589.3 603.1,1577.0 604.5,1598.0 605.9,1600.7 607.7,1585.8 609.5,1612.1 611.2,1615.6 613.0,1601.6 614.2,1595.4 616.0,1620.0 617.7,1606.8 619.1,1596.3 620.7,1605.1 622.4,1616.5 624.2,1598.0 626.0,1577.0 627.7,1555.9 629.1,1573.5 630.2,1580.5 631.4,1589.3 633.2,1577.0 634.9,1615.6 636.7,1589.3 637.9,1571.7 639.3,1598.0 641.1,1586.6 642.8,1612.1 644.9,1613.0 646.3,1598.0 648.1,1577.0 649.9,1566.4 651.3,1589.3 652.5,1577.0 654.2,1605.1 655.5,1615.6 657.2,1594.5 659.0,1576.1 661.3,1572.6 663.0,1594.5 664.3,1584.0 666.0,1605.1 668.3,1595.4 670.0,1613.9 671.8,1615.6 673.6,1598.0 675.3,1614.7 677.1,1589.3 678.3,1575.2 680.1,1594.5 681.8,1605.1 683.6,1614.7 685.3,1598.0 687.6,1584.0 689.4,1605.1 691.1,1592.8 692.9,1606.8 694.6,1617.4 696.4,1589.3 698.1,1562.9 699.4,1551.5 700.8,1571.7 702.2,1598.0 703.4,1611.2 705.2,1589.3 706.4,1575.2 707.8,1589.3 709.2,1605.1 710.6,1615.6 712.2,1580.5 714.0,1552.4 715.7,1568.2 717.5,1573.5 719.2,1589.3 721.0,1597.2 722.7,1573.5 724.1,1556.8 725.7,1580.5 727.5,1598.0 729.2,1608.6 731.0,1609.5 732.4,1589.3 734.5,1561.2 735.9,1584.0 737.3,1602.4 739.1,1580.5 741.2,1564.7 742.9,1578.7 744.7,1562.9 746.4,1545.4 748.7,1526.0 750.3,1554.1 751.7,1577.0 753.5,1545.4 755.2,1509.4 757.0,1536.6 758.7,1566.4 760.1,1584.0 761.9,1591.0 763.6,1566.4 765.8,1542.7 767.5,1571.7 769.3,1596.3 771.4,1600.7 773.1,1580.5 775.4,1564.7 777.2,1589.3 778.9,1601.6 780.7,1589.3 782.1,1576.1 783.7,1608.6 785.4,1594.5 786.8,1562.9 788.2,1542.7 790.0,1562.9 791.2,1585.8 793.0,1554.1 794.2,1533.1 795.6,1519.9 797.4,1554.1 798.8,1579.6 800.5,1580.5 801.9,1554.1 803.2,1580.5 804.9,1546.2 806.7,1554.1 808.4,1580.5 810.2,1613.9 812.5,1598.0 814.6,1589.3 816.3,1566.4 818.4,1544.5 820.2,1566.4 821.6,1610.3 823.4,1589.3 825.6,1565.6 827.2,1589.3 828.3,1605.1 830.0,1594.5 831.3,1611.2 833.0,1594.5 835.3,1593.7 837.1,1615.6 839.2,1619.1 841.3,1613.0 843.6,1622.6 845.3,1639.3 847.1,1624.4 848.8,1629.7 850.6,1634.0 852.7,1643.7 854.4,1636.7 856.2,1632.3 858.5,1645.5 861.1,1647.2 863.4,1640.2 865.5,1634.9 867.6,1649.0 869.9,1643.7 872.2,1634.9 874.3,1647.2 876.4,1642.0 878.2,1652.5 880.4,1643.7 882.2,1639.3 884.5,1650.7 886.2,1638.4 888.0,1630.5 890.1,1639.3 892.2,1633.2 894.0,1622.6 895.4,1615.6 897.1,1626.1 898.9,1615.6 900.6,1609.5 902.4,1624.4 904.1,1631.4 905.9,1638.4 908.0,1627.9 909.8,1642.0 912.0,1643.7 914.3,1632.3 916.1,1638.4 917.8,1645.5 920.0,1636.7 922.1,1627.9 924.3,1628.8 925.6,1643.7 925.3,1642.8 926.7,1626.8 928.7,1606.8 930.7,1586.7 932.7,1560.1 934.0,1533.4 935.0,1506.7 935.8,1486.3 936.3,1473.4 937.4,1473.4 938.0,1486.3 938.7,1520.0 940.0,1534.1 941.1,1517.4 942.0,1498.7 943.0,1514.7 944.0,1502.7 945.1,1533.4 946.0,1573.4 947.4,1557.4 948.3,1534.7 949.6,1557.4 951.4,1560.1 952.0,1600.1 952.7,1614.8 954.0,1597.4 955.4,1598.8 956.7,1620.1 958.7,1635.4 960.0,1613.4 960.8,1580.1 962.2,1601.4 961.6,1580.1 962.0,1533.4 963.0,1501.4 964.0,1520.0 965.4,1546.7 966.4,1573.4 967.4,1600.1 968.3,1619.4 969.1,1586.7 970.0,1570.1 971.0,1593.4 972.0,1613.4 973.1,1574.7 974.0,1586.7 975.4,1602.8 976.7,1616.1 978.7,1626.8 980.0,1636.1 982.0,1641.4 983.4,1649.4 985.4,1657.5 987.4,1660.1 989.4,1664.1 992.1,1665.5 994.7,1668.8 999.4,1671.9" fill="none" stroke="#000" stroke-width="4.4" stroke-linejoin="round" stroke-linecap="butt"/>
<line x1="257.7" y1="1672.4" x2="257.7" y2="1377.7" stroke="#f00" stroke-width="5.7" stroke-dasharray="19.8 8.4" stroke-dashoffset="0"/>
<line x1="930.0" y1="1672.4" x2="930.0" y2="1377.7" stroke="#f00" stroke-width="5.7" stroke-dasharray="19.8 8.4" stroke-dashoffset="0"/>
<rect x="128.4" y="1386.7" width="407.5" height="51.6" fill="#fff"/>
<rect x="769.8" y="1386.3" width="218.8" height="51.6" fill="#fff"/>
<rect x="669.1" y="1435.0" width="319.8" height="51.6" fill="#fff"/>
</g>
<text transform="translate(134.0 1424.0) scale(1.011 1)" text-anchor="start" fill="#000" stroke="#000" stroke-width="0.4">Pixel intensity (au)</text>
<text transform="translate(983.0 1423.6) scale(1.011 1)" text-anchor="end" fill="#000" stroke="#000" stroke-width="0.4">Camera 1</text>
<text transform="translate(983.3 1472.3) scale(1.014 1)" text-anchor="end" fill="#000" stroke="#000" stroke-width="0.4">Pixel (110, 40)</text>
<rect x="114.1" y="1375.6" width="888.8" height="4.2"/>
<rect x="114.1" y="1670.3" width="888.8" height="4.2"/>
<rect x="114.1" y="1375.6" width="4.2" height="298.9"/>
<rect x="998.7" y="1375.6" width="4.2" height="298.9"/>
<rect x="114.1" y="1672.4" width="4.2" height="18.8"/>
<rect x="291.0" y="1672.4" width="4.2" height="18.8"/>
<rect x="467.9" y="1672.4" width="4.2" height="18.8"/>
<rect x="644.9" y="1672.4" width="4.2" height="18.8"/>
<rect x="821.8" y="1672.4" width="4.2" height="18.8"/>
<rect x="998.7" y="1672.4" width="4.2" height="18.8"/>
<rect x="97.4" y="1633.5" width="18.8" height="4.2"/>
<text transform="translate(78.5 1652.0) scale(1.0 1)" text-anchor="end" fill="#000" stroke="#000" stroke-width="0.4">200</text>
<rect x="97.4" y="1559.8" width="18.8" height="4.2"/>
<text transform="translate(78.5 1578.3) scale(1.0 1)" text-anchor="end" fill="#000" stroke="#000" stroke-width="0.4">400</text>
<rect x="97.4" y="1486.1" width="18.8" height="4.2"/>
<text transform="translate(78.5 1504.6) scale(1.0 1)" text-anchor="end" fill="#000" stroke="#000" stroke-width="0.4">600</text>
<rect x="97.4" y="1412.4" width="18.8" height="4.2"/>
<text transform="translate(78.5 1430.9) scale(1.0 1)" text-anchor="end" fill="#000" stroke="#000" stroke-width="0.4">800</text>
<text transform="translate(116.2 1741.5) scale(1.0 1)" text-anchor="middle" fill="#000" stroke="#000" stroke-width="0.4">0</text>
<text transform="translate(293.1 1741.5) scale(1.0 1)" text-anchor="middle" fill="#000" stroke="#000" stroke-width="0.4">2</text>
<text transform="translate(470.0 1741.5) scale(1.0 1)" text-anchor="middle" fill="#000" stroke="#000" stroke-width="0.4">4</text>
<text transform="translate(647.0 1741.5) scale(1.0 1)" text-anchor="middle" fill="#000" stroke="#000" stroke-width="0.4">6</text>
<text transform="translate(823.9 1741.5) scale(1.0 1)" text-anchor="middle" fill="#000" stroke="#000" stroke-width="0.4">8</text>
<text transform="translate(1000.8 1741.5) scale(1.0 1)" text-anchor="middle" fill="#000" stroke="#000" stroke-width="0.4">10</text>
<text transform="translate(558.6 1792.7) scale(1.012 1)" text-anchor="middle" fill="#000" stroke="#000" stroke-width="0.4">Time (ms)</text>
</svg></body></html>
